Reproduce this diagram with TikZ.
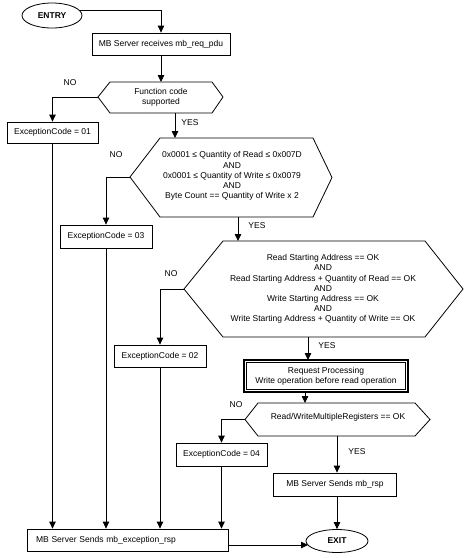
\documentclass[tikz,border=0pt]{standalone}
\usepackage{fontspec}
\setmainfont{Liberation Sans}
\usetikzlibrary{arrows.meta,shapes.geometric}
\begin{document}
\begin{tikzpicture}[x=1pt,y=-1pt,
  font=\fontsize{8.5}{10.2}\selectfont,
  every node/.style={inner sep=0pt,align=center},
  box/.style={draw,line width=0.8pt,rectangle},
  oval/.style={draw,line width=0.8pt,ellipse},
  hexa/.style={draw,line width=0.8pt,line join=miter},
  arr/.style={line width=0.8pt,-{Triangle[length=7pt,width=6.5pt]}},
  lbl/.style={font=\fontsize{8.5}{10.2}\selectfont}]
\useasboundingbox[fill=white] (0,0) rectangle (474,558);

% ENTRY
\node[oval,minimum width=60pt,minimum height=25pt,font=\fontsize{8.5}{10.2}\selectfont\bfseries] (entry) at (52,15.5) {ENTRY};
\node[box,minimum width=138pt,minimum height=22pt] (recv) at (161,44) {MB Server receives mb\_req\_pdu};

% hexagon 1
\coordinate (h1l) at (98,97);
\coordinate (h1r) at (223,97);
\coordinate (h1t) at (161,82);
\coordinate (h1b) at (175,113);
\draw[hexa] (h1l) -- (110,82) -- (212,82) -- (h1r) -- (212,113) -- (110,113) -- cycle;
\node (h1txt) at (161,97.5) {Function code\\supported};

% hexagon 2
\coordinate (h2l) at (130,177);
\coordinate (h2t) at (175,138);
\coordinate (h2b) at (238,217);
\draw[hexa] (h2l) -- (160,138) -- (313,138) -- (332,177.5) -- (313,217) -- (160,217) -- cycle;
\node (h2txt) at (232,176) {0x0001 ≤ Quantity of Read ≤ 0x007D\\AND\\0x0001 ≤ Quantity of Write ≤ 0x0079\\AND\\Byte Count == Quantity of Write x 2};

% hexagon 3
\coordinate (h3l) at (184,289);
\coordinate (h3t) at (238,241);
\coordinate (h3b) at (308,337);
\draw[hexa] (h3l) -- (223,241) -- (425,241) -- (463,289) -- (425,337) -- (223,337) -- cycle;
\node (h3txt) at (323,289) {Read Starting Address == OK\\AND\\Read Starting Address + Quantity of Read == OK\\AND\\Write Starting Address == OK\\AND\\Write Starting Address + Quantity of Write == OK};

% request processing (double box)
\node[draw,line width=1.8pt,minimum width=164pt,minimum height=32pt] (proc) at (326,376) {Request Processing\\Write operation before read operation};
\draw[line width=0.7pt] ([shift={(3.2pt,-3.2pt)}]proc.north west) rectangle ([shift={(-3.2pt,3.2pt)}]proc.south east);
\coordinate (proct) at (308,360);
\coordinate (procb) at (305,392);

% hexagon 4
\coordinate (h4l) at (245,419.5);
\coordinate (h4t) at (305,403);
\coordinate (h4b) at (337,436);
\draw[hexa] (h4l) -- (258,403) -- (415,403) -- (430,419.5) -- (415,436) -- (258,436) -- cycle;
\node (h4txt) at (338,417) {Read/WriteMultipleRegisters == OK};

% exception boxes
\node[box,minimum width=91pt,minimum height=21pt] (e01) at (52.5,132.5) {ExceptionCode = 01};
\node[box,minimum width=92pt,minimum height=23pt] (e03) at (106,236.5) {ExceptionCode = 03};
\node[box,minimum width=92pt,minimum height=22pt] (e02) at (160,356) {ExceptionCode = 02};
\node[box,minimum width=91pt,minimum height=23pt] (e04) at (221.5,454.5) {ExceptionCode = 04};

% responses
\node[box,minimum width=123pt,minimum height=23pt] (rsp) at (335,484.5) {MB Server Sends mb\_rsp};
\node[box,minimum width=201pt,minimum height=22pt,text width=183pt,align=left] (ersp) at (127.5,540) {MB Server Sends mb\_exception\_rsp};
\node[oval,minimum width=62pt,minimum height=23pt,font=\fontsize{8.5}{10.2}\selectfont\bfseries] (exit) at (337,541) {EXIT};
\coordinate (exitin) at (308,545);

% labels
\node[lbl] (no1) at (70,83) {NO};
\node[lbl] (yes1) at (190,123) {YES};
\node[lbl] (no2) at (116,155) {NO};
\node[lbl] (yes2) at (257,226) {YES};
\node[lbl] (no3) at (171,274) {NO};
\node[lbl] (yes3) at (327,346) {YES};
\node[lbl] (no4) at (236,405) {NO};
\node[lbl] (yes4) at (357,452) {YES};

% connectors
\draw[arr] (entry.10) -| (recv.north);
\draw[arr] (recv.south) -- (h1t);
\draw[arr] (h1b) -- (h2t);
\draw[arr] (h1l) -| (e01.north);
\draw[arr] (h2b) -- (h3t);
\draw[arr] (h2l) -| (e03.north);
\draw[arr] (h3b) -- (proct);
\draw[arr] (h3l) -| (e02.north);
\draw[arr] (procb) -- (h4t);
\draw[arr] (h4l) -| (e04.north);
\draw[arr] (h4b) -- (h4b |- rsp.north);
\draw[arr] (exit.north |- rsp.south) -- (exit.north);
\draw[arr] (e01.south) -- (e01.south |- ersp.north);
\draw[arr] (e03.south) -- (e03.south |- ersp.north);
\draw[arr] (e02.south) -- (e02.south |- ersp.north);
\draw[arr] (e04.south) -- (e04.south |- ersp.north);
\draw[arr] (ersp.east |- exitin) -- (exitin);
\end{tikzpicture}
\end{document}
